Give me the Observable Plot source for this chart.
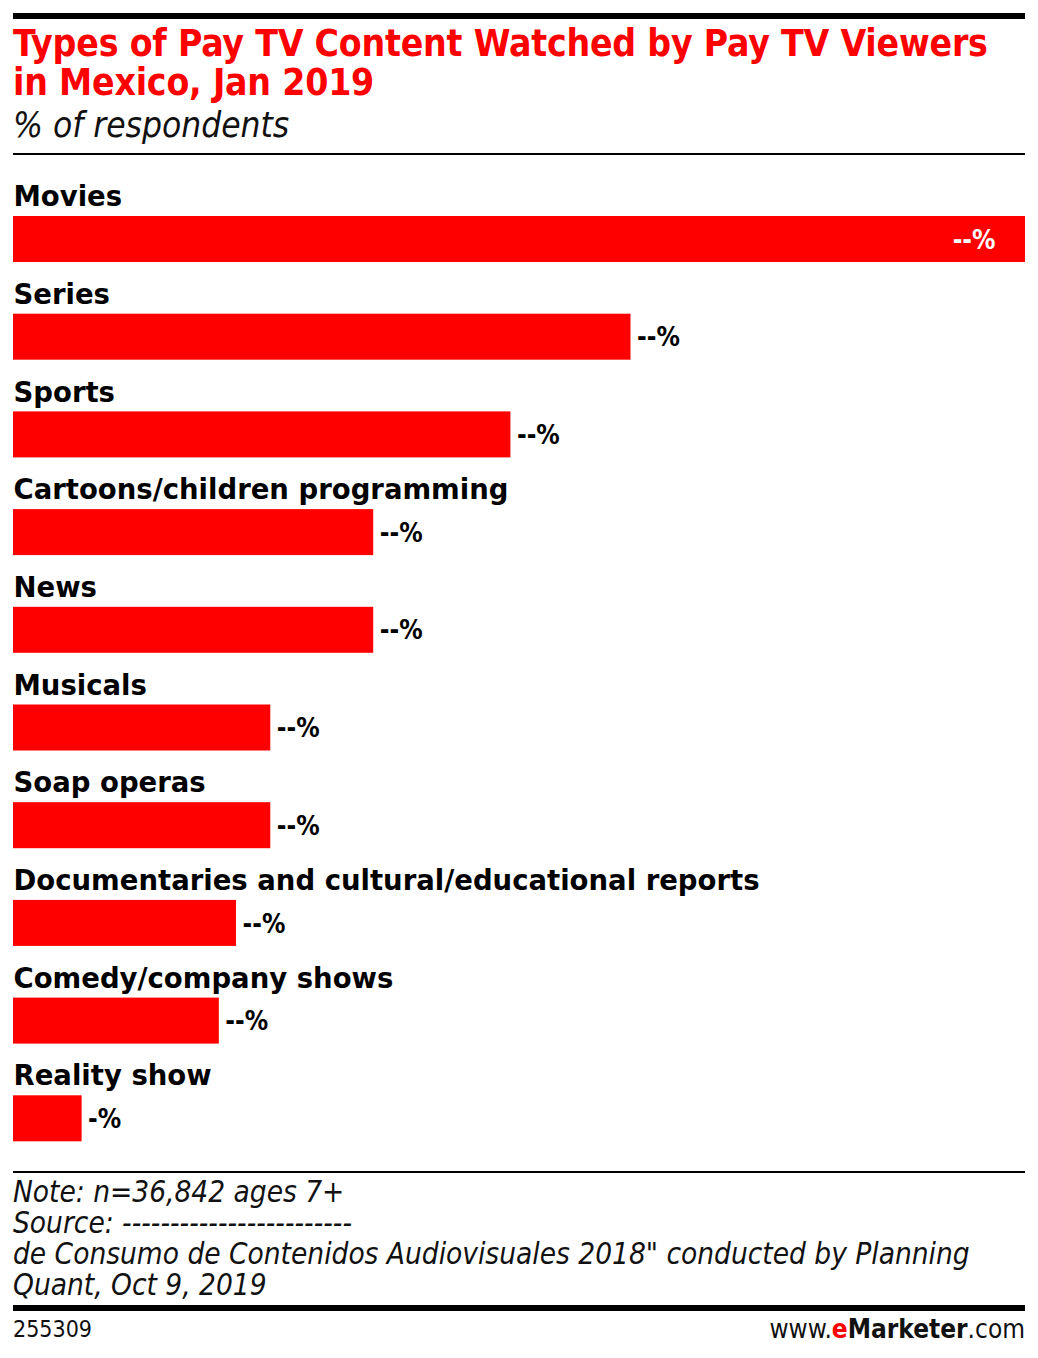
<!DOCTYPE html>
<html>
<head>
<meta charset="utf-8">
<script src="https://cdn.jsdelivr.net/npm/d3@7"></script>
<script src="https://cdn.jsdelivr.net/npm/@observablehq/plot@0.6"></script>
<style>
  html, body { margin: 0; padding: 0; background: #fff; }
  body { width: 1038px; height: 1358px; position: relative; overflow: hidden; font-family: "DejaVu Sans", sans-serif; }
  .rule { position: absolute; left: 13px; width: 1012px; background: #000; }
  #title { position: absolute; left: 13px; top: 24px; margin: 0; color: #ff0000; font-family: "DejaVu Sans Condensed", "DejaVu Sans", sans-serif; font-stretch: condensed; font-weight: bold; font-size: 37px; line-height: 39px; letter-spacing: -0.2px; }
  #subtitle { position: absolute; left: 13px; top: 104px; margin: 0; font-family: "DejaVu Sans Condensed", "DejaVu Sans", sans-serif; font-stretch: condensed; font-style: italic; font-size: 35px; line-height: 42px; color: #111; }
  #chart { position: absolute; left: 0; top: 160px; }
  #notes { position: absolute; left: 13px; top: 1177px; margin: 0; font-family: "DejaVu Sans Condensed", "DejaVu Sans", sans-serif; font-stretch: condensed; font-style: italic; font-size: 29.5px; line-height: 31px; color: #111; }
  #id { position: absolute; left: 13px; top: 1316px; font-family: "DejaVu Sans Condensed", sans-serif; font-stretch: condensed; font-size: 23px; color: #111; }
  #brand { position: absolute; right: 13px; top: 1314px; font-family: "DejaVu Sans Condensed", sans-serif; font-stretch: condensed; font-size: 26px; color: #111; }
  #brand .e { color: #ff0000; font-weight: bold; }
  #brand b { font-weight: bold; }
</style>
</head>
<body>
<div class="rule" style="top:13px;height:6px;"></div>
<h1 id="title">Types of Pay TV Content Watched by Pay TV Viewers<br>in Mexico, Jan 2019</h1>
<div id="subtitle">% of respondents</div>
<div class="rule" style="top:153px;height:2px;"></div>
<div id="chart"></div>
<div class="rule" style="top:1171px;height:2px;"></div>
<div id="notes">Note: n=36,842 ages 7+<br>Source: ------------------------<br>de Consumo de Contenidos Audiovisuales 2018" conducted by Planning<br>Quant, Oct 9, 2019</div>
<div class="rule" style="top:1305px;height:6px;"></div>
<div id="id">255309</div>
<div id="brand">www.<span class="e">e</span><b>Marketer</b>.com</div>
<script>
const categories = [
  "Movies",
  "Series",
  "Sports",
  "Cartoons/children programming",
  "News",
  "Musicals",
  "Soap operas",
  "Documentaries and cultural/educational reports",
  "Comedy/company shows",
  "Reality show"
];
// Values hidden in the source ("--%")
const values = [59, 36, 29, 21, 21, 15, 15, 13, 12, 4];
const valueLabels = ["--%", "--%", "--%", "--%", "--%", "--%", "--%", "--%", "--%", "-%"];

const data = categories.map((c, i) => ({ cat: c, value: values[i], label: valueLabels[i], first: i === 0 }));

const rowStep = 97.7;
const marginTop = 7;
const marginBottom = 4;
const height = marginTop + rowStep * categories.length + marginBottom;

const chart = Plot.plot({
  width: 1038,
  height,
  marginLeft: 13,
  marginRight: 13,
  marginTop,
  marginBottom,
  x: { domain: [0, 59], axis: null },
  y: { domain: categories, axis: null, padding: 0, round: false },
  style: { fontFamily: "DejaVu Sans, sans-serif", background: "transparent" },
  marks: [
    Plot.barX(data, { x: "value", y: "cat", fill: "#ff0000", insetTop: 49, insetBottom: 2.7 }),
    Plot.text(data, {
      x: 0, y: "cat", text: "cat", textAnchor: "start", dy: -19,
      fontSize: 27.5, fontWeight: "bold", fill: "#000"
    }),
    Plot.text(data.filter(d => !d.first), {
      x: "value", y: "cat", text: "label", textAnchor: "start", dx: 6, dy: 24,
      fontSize: 26, fontWeight: "bold", fill: "#000", fontFamily: "DejaVu Sans Condensed, DejaVu Sans, sans-serif"
    }),
    Plot.text(data.filter(d => d.first), {
      x: "value", y: "cat", text: "label", textAnchor: "end", dx: -30, dy: 24,
      fontSize: 26, fontWeight: "bold", fill: "#fff", fontFamily: "DejaVu Sans Condensed, DejaVu Sans, sans-serif"
    })
  ]
});
document.getElementById("chart").appendChild(chart);
</script>
</body>
</html>
